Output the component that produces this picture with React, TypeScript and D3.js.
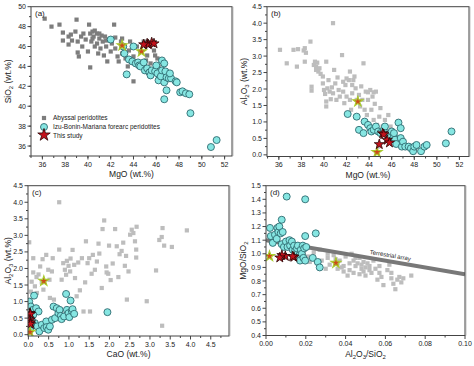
import React from "react";
import * as d3 from "d3";

type Pt = [number, number];

// (a) MgO vs SiO2
const abyssalA: Pt[] = [
  [36.2, 48.8], [36.8, 48.0], [37.5, 48.2], [37.8, 47.4], [37.8, 46.6], [38.3, 47.0], [38.3, 46.2],
  [38.5, 47.2], [38.6, 46.6], [39.0, 48.7], [38.9, 47.5], [39.1, 46.5], [39.1, 45.4], [39.2, 45.0],
  [39.4, 47.0], [39.5, 46.0], [39.8, 46.7], [40.0, 45.5], [40.1, 48.2], [40.2, 47.3], [40.2, 43.9],
  [40.3, 46.5], [40.4, 47.5], [40.5, 47.0], [40.6, 46.0], [40.8, 47.3], [40.8, 46.3], [40.9, 45.3],
  [41.0, 46.8], [41.1, 45.8], [41.2, 47.1], [41.3, 46.5], [41.4, 45.1], [41.5, 47.0], [41.6, 46.0],
  [41.7, 44.5], [41.8, 46.7], [42.0, 45.5], [42.1, 46.3], [42.3, 48.2], [42.4, 45.8], [42.6, 45.0],
  [42.7, 44.5], [42.9, 46.5], [43.0, 45.3], [43.2, 46.0], [43.3, 44.8], [43.5, 44.0], [43.6, 45.6],
  [43.7, 46.5], [44.0, 42.5], [44.0, 45.0], [44.3, 46.0], [44.6, 45.5], [44.9, 46.5], [45.1, 44.6],
  [45.2, 45.1], [45.5, 44.3], [45.8, 45.6], [45.9, 45.1], [46.1, 44.8], [46.2, 44.0], [46.4, 44.6],
  [40.6, 47.6], [41.0, 47.3], [40.4, 46.8], [39.6, 47.3], [41.6, 46.6], [42.4, 46.9], [43.0, 46.8],
];
const ibmA: Pt[] = [
  [42.0, 46.7], [43.1, 46.0], [43.2, 45.3], [43.4, 43.2], [43.6, 44.7], [43.9, 44.5], [44.0, 46.0],
  [44.2, 44.3], [44.4, 44.4], [44.5, 44.1], [44.6, 44.0], [44.9, 44.4], [45.0, 43.6], [45.2, 43.8],
  [45.4, 43.4], [45.5, 43.1], [45.6, 43.6], [45.9, 43.5], [46.0, 44.1], [46.1, 43.3], [46.2, 42.6],
  [46.4, 43.0], [46.5, 43.6], [46.5, 44.6], [46.7, 44.3], [46.7, 42.4], [46.8, 43.5], [46.9, 42.9],
  [47.1, 42.8], [46.7, 40.7], [46.9, 41.6], [47.3, 42.8], [47.7, 42.5], [47.8, 42.4], [48.1, 41.4],
  [48.3, 41.5], [48.6, 41.3], [48.9, 41.2], [49.0, 39.3], [50.8, 35.9], [51.3, 36.6], [47.2, 43.3],
];

// (b) MgO vs Al2O3
const abyssalB: Pt[] = [
  [36.1, 3.19], [36.7, 2.78], [37.3, 3.19], [37.7, 3.21], [37.6, 2.68], [38.2, 3.17], [38.3, 3.24],
  [38.4, 3.1], [38.3, 2.83], [38.8, 3.44], [38.9, 2.07], [38.9, 1.95], [39.1, 2.73], [39.2, 2.83],
  [39.3, 2.68], [39.3, 2.58], [39.4, 2.8], [39.5, 2.53], [39.6, 2.63], [39.7, 2.46], [39.9, 2.38],
  [39.9, 2.17], [40.0, 1.97], [40.1, 1.85], [40.2, 1.47], [40.2, 1.62], [40.2, 2.83], [40.3, 2.02],
  [40.4, 2.27], [40.5, 1.92], [40.6, 1.69], [40.7, 2.05], [40.8, 4.0], [40.8, 1.87], [40.9, 2.58],
  [41.0, 2.17], [41.1, 1.67], [41.2, 2.35], [41.3, 1.97], [41.4, 1.77], [41.6, 3.03], [41.7, 2.22],
  [41.7, 1.92], [41.8, 1.57], [41.9, 2.12], [42.0, 2.32], [42.0, 1.77], [42.2, 2.27], [42.3, 2.53],
  [42.3, 1.67], [42.4, 1.37], [42.5, 2.12], [42.5, 1.87], [42.6, 2.27], [42.7, 2.38], [42.8, 2.02],
  [42.8, 1.16], [42.9, 1.67], [43.1, 1.82], [43.2, 1.47], [43.3, 2.08], [43.4, 1.67], [43.5, 2.78],
  [43.6, 1.37], [43.7, 1.92], [43.8, 1.21], [43.9, 1.67], [44.1, 1.97], [44.2, 1.37], [44.3, 1.77],
  [44.4, 1.06], [44.5, 1.55], [44.7, 0.91], [44.8, 0.25], [44.9, 1.16], [45.0, 1.42], [45.2, 0.86],
  [45.4, 1.06], [45.6, 0.71], [45.7, 1.21], [45.9, 0.86], [44.6, 1.92], [44.4, 1.9], [43.9, 1.9],
];
const ibmB: Pt[] = [
  [42.1, 1.24], [42.9, 1.16], [43.1, 0.76], [43.5, 0.66], [43.6, 1.01], [43.9, 0.91], [44.1, 0.81],
  [44.2, 0.71], [44.4, 0.76], [44.6, 0.86], [44.8, 0.71], [45.0, 0.66], [45.3, 0.76], [45.4, 0.86],
  [45.7, 0.61], [45.8, 0.51], [46.0, 0.71], [46.2, 0.56], [46.3, 0.46], [46.4, 0.33], [46.6, 0.98],
  [46.8, 0.51], [46.8, 0.81], [46.9, 0.25], [47.0, 0.4], [47.2, 0.25], [47.5, 0.25], [47.7, 0.2],
  [47.9, 0.11], [48.0, 0.25], [48.2, 0.3], [48.6, 0.11], [48.9, 0.25], [49.1, 0.3], [50.8, 0.35],
  [51.3, 0.71], [46.2, 0.66],
];

// (c) CaO vs Al2O3
const abyssalC: Pt[] = [
  [0.02, 2.79], [0.12, 1.88], [0.16, 1.46], [0.21, 1.26], [0.12, 2.31], [0.25, 1.82], [0.29, 2.06],
  [0.33, 1.58], [0.35, 2.28], [0.37, 1.36], [0.44, 2.41], [0.49, 1.96], [0.52, 1.66], [0.53, 1.11],
  [0.58, 1.91], [0.6, 2.31], [0.63, 1.06], [0.76, 4.0], [0.76, 2.57], [0.82, 1.66], [0.86, 2.16],
  [0.9, 1.96], [0.93, 1.81], [0.95, 2.23], [0.99, 2.08], [1.03, 1.91], [1.04, 2.3], [1.09, 2.56],
  [1.13, 2.11], [1.15, 1.71], [1.19, 1.16], [1.23, 2.18], [1.27, 1.34], [1.32, 2.31], [1.36, 0.7],
  [1.4, 1.58], [1.42, 2.82], [1.46, 2.16], [1.5, 2.31], [1.52, 0.7], [1.56, 1.84], [1.59, 2.41],
  [1.64, 1.96], [1.69, 2.21], [1.73, 2.75], [1.75, 2.45], [1.81, 1.41], [1.83, 3.19], [1.87, 3.45],
  [1.92, 2.06], [1.93, 1.88], [1.97, 1.84], [1.99, 2.69], [2.03, 1.65], [2.08, 2.15], [2.14, 3.19],
  [2.18, 2.67], [2.22, 1.74], [2.25, 2.43], [2.3, 2.53], [2.34, 2.78], [2.38, 2.08], [2.41, 2.38],
  [2.47, 1.91], [2.51, 3.02], [2.55, 3.17], [2.59, 3.07], [2.63, 2.82], [2.66, 2.57], [2.67, 3.26],
  [2.43, 1.06], [2.92, 1.01], [3.15, 1.94], [3.23, 2.86], [3.29, 2.95], [3.31, 3.22], [3.35, 2.69],
  [3.3, 0.27], [3.54, 2.65], [3.91, 3.15], [2.66, 2.33], [0.08, 1.6], [0.06, 1.3], [0.2, 1.74],
];
const ibmC: Pt[] = [
  [0.02, 1.0], [0.06, 0.85], [0.11, 0.75], [0.14, 1.18], [0.19, 0.8], [0.25, 0.7], [0.12, 0.6],
  [0.08, 0.45], [0.16, 0.35], [0.22, 0.25], [0.27, 0.1], [0.33, 0.3], [0.39, 0.2], [0.44, 0.4],
  [0.45, 0.23], [0.49, 0.15], [0.53, 0.25], [0.58, 0.45], [0.62, 0.85], [0.66, 0.5], [0.7, 0.8],
  [0.74, 0.65], [0.77, 0.75], [0.8, 0.57], [0.82, 0.47], [0.88, 0.55], [0.93, 1.23], [0.95, 0.75],
  [0.99, 0.65], [1.01, 0.53], [1.04, 1.03], [1.07, 0.72], [1.09, 0.77], [1.13, 0.63], [1.95, 0.68],
  [0.04, 0.15], [0.02, 0.3],
];

// (d) Al2O3/SiO2 vs MgO/SiO2
const abyssalD: Pt[] = [
  [0.019, 1.0], [0.021, 0.98], [0.022, 0.94], [0.026, 0.93], [0.028, 0.95], [0.03, 0.89], [0.031, 0.97],
  [0.032, 0.92], [0.034, 0.99], [0.036, 0.89], [0.036, 0.93], [0.037, 0.95], [0.039, 0.87], [0.039, 0.91],
  [0.04, 0.98], [0.041, 0.84], [0.042, 0.93], [0.042, 0.88], [0.043, 1.0], [0.044, 0.86], [0.044, 0.95],
  [0.045, 0.91], [0.046, 0.93], [0.047, 0.85], [0.047, 0.97], [0.048, 0.89], [0.048, 0.92], [0.049, 0.87],
  [0.049, 0.94], [0.05, 0.9], [0.05, 0.84], [0.051, 0.93], [0.052, 0.88], [0.052, 0.91], [0.053, 0.86],
  [0.054, 0.95], [0.055, 0.89], [0.056, 0.81], [0.057, 0.91], [0.057, 0.86], [0.058, 0.83], [0.059, 0.77],
  [0.061, 0.88], [0.062, 0.92], [0.063, 0.82], [0.063, 0.86], [0.064, 0.78], [0.065, 0.74], [0.066, 0.81],
  [0.067, 0.83], [0.068, 0.79], [0.069, 0.82], [0.073, 0.84], [0.021, 1.05], [0.027, 1.03], [0.031, 1.0],
  [0.024, 1.01], [0.035, 0.96], [0.045, 0.97], [0.038, 0.9],
];
const ibmD: Pt[] = [
  [0.002, 1.19], [0.0024, 1.13], [0.0034, 1.08], [0.0045, 1.14], [0.0054, 1.11], [0.0057, 1.19],
  [0.0062, 1.16], [0.0067, 1.2], [0.0074, 1.15], [0.0079, 1.25], [0.0084, 1.16], [0.0079, 1.07],
  [0.009, 1.05], [0.01, 1.09], [0.0104, 1.42], [0.0108, 1.05], [0.0118, 1.1], [0.0121, 1.06],
  [0.013, 1.09], [0.0134, 1.03], [0.0141, 1.06], [0.0146, 1.02], [0.0155, 1.04], [0.016, 1.06],
  [0.0168, 0.99], [0.0171, 0.95], [0.0175, 1.03], [0.018, 1.0], [0.0185, 1.06], [0.0188, 0.97],
  [0.0192, 1.04], [0.0197, 1.4], [0.0197, 1.13], [0.0202, 1.05], [0.0197, 0.95], [0.0235, 0.97],
  [0.025, 1.15], [0.026, 0.94], [0.027, 0.9],
];

// this study (wt.%)
const studyMgO = [43.0, 44.7, 45.2, 45.3, 45.6, 45.8, 44.9];
const studySiO2 = [46.1, 45.5, 46.3, 46.2, 46.4, 46.3, 46.2];
const studyAl2O3 = [1.62, 0.08, 0.65, 0.62, 0.45, 0.37, 0.32];
const studyCaO = [0.38, 0.04, 0.04, 0.05, 0.04, 0.05, 0.05];
const studyOutlined = [true, true, false, false, false, false, false];

// terrestrial array end points
const arrayX = [0, 0.1];
const arrayY = [1.1, 0.85];

const FONT = "Liberation Sans, Arial, sans-serif";

type Label = { t: string; sub?: boolean }[];

function LabelText({ parts, size }: { parts: Label; size: number }) {
  return (
    <>
      {parts.map((p, i) => (
        <tspan key={i} fontSize={p.sub ? size * 0.7 : size} dy={p.sub ? size * 0.25 : (i > 0 && parts[i - 1].sub ? -size * 0.25 : 0)}>
          {p.t}
        </tspan>
      ))}
    </>
  );
}

const starPath = d3.symbol(d3.symbolStar, 32)()!;

interface PanelProps {
  left: number; right: number; top: number; bottom: number;
  xDomain: [number, number]; yDomain: [number, number];
  xTicks: number[]; yTicks: number[]; xMinor: number[]; yMinor: number[];
  xFmt: (v: number) => string; yFmt: (v: number) => string;
  tag: string; xLabel: Label; yLabel: Label;
  gray: Pt[]; grayColor: string; cyan: Pt[]; stars: Pt[];
  extra?: (x: d3.ScaleLinear<number, number>, y: d3.ScaleLinear<number, number>) => React.ReactNode;
}

function Panel(p: PanelProps) {
  const x = d3.scaleLinear().domain(p.xDomain).range([p.left, p.right]);
  const y = d3.scaleLinear().domain(p.yDomain).range([p.bottom, p.top]);
  const clip = `clip-${p.tag}`;
  const yLabelX = Math.max(p.left - 20, 10.5);
  return (
    <g fontFamily={FONT}>
      <clipPath id={clip}>
        <rect x={p.left} y={p.top} width={p.right - p.left} height={p.bottom - p.top} />
      </clipPath>
      <g clipPath={`url(#${clip})`}>
        {p.gray.map((d, i) => (
          <rect key={i} x={x(d[0]) - 2.1} y={y(d[1]) - 2.1} width={4.2} height={4.2} fill={p.grayColor} />
        ))}
        {p.extra && p.extra(x, y)}
        {p.cyan.map((d, i) => (
          <circle key={i} cx={x(d[0])} cy={y(d[1])} r={3.5} fill="#86e6e2" stroke="#2f6b70" strokeWidth={0.9} />
        ))}
        {p.stars.map((d, i) => (
          <path key={i} d={starPath} transform={`translate(${x(d[0])},${y(d[1])})`}
            fill={studyOutlined[i] ? "#cc4a1a" : "#c4121c"}
            stroke={studyOutlined[i] ? "#a8cc2e" : "#2a0505"} strokeWidth={studyOutlined[i] ? 1.1 : 0.8} />
        ))}
      </g>
      <rect x={p.left} y={p.top} width={p.right - p.left} height={p.bottom - p.top} fill="none" stroke="#444" strokeWidth={1} />
      <line x1={p.right + 0.8} x2={p.right + 0.8} y1={p.top} y2={p.bottom} stroke="#999" strokeWidth={1} />
      {p.xTicks.map((v) => (
        <g key={v}>
          <line x1={x(v)} x2={x(v)} y1={p.bottom} y2={p.bottom + 3.5} stroke="#444" />
          <text x={x(v)} y={p.bottom + 10.5} fontSize={7} textAnchor="middle" fill="#222">{p.xFmt(v)}</text>
        </g>
      ))}
      {p.xMinor.map((v) => (
        <line key={v} x1={x(v)} x2={x(v)} y1={p.bottom} y2={p.bottom + 2} stroke="#444" />
      ))}
      {p.yTicks.map((v) => (
        <g key={v}>
          <line x1={p.left - 3.5} x2={p.left} y1={y(v)} y2={y(v)} stroke="#444" />
          <text x={p.left - 5} y={y(v) + 2.5} fontSize={7} textAnchor="end" fill="#222">{p.yFmt(v)}</text>
        </g>
      ))}
      {p.yMinor.map((v) => (
        <line key={v} x1={p.left - 2} x2={p.left} y1={y(v)} y2={y(v)} stroke="#444" />
      ))}
      <text x={p.left + 4} y={p.top + 9} fontSize={8} fill="#222">{`(${p.tag})`}</text>
      <text x={(p.left + p.right) / 2} y={p.bottom + 21} fontSize={8.5} textAnchor="middle" fill="#222">
        <LabelText parts={p.xLabel} size={8.5} />
      </text>
      <text transform={`translate(${yLabelX},${(p.top + p.bottom) / 2}) rotate(-90)`} fontSize={8.5} textAnchor="middle" fill="#222">
        <LabelText parts={p.yLabel} size={8.5} />
      </text>
    </g>
  );
}

const range = (a: number, b: number, s: number) => d3.range(a, b + s / 2, s).map((v) => +v.toFixed(4));

export default function App() {
  const starsA: Pt[] = studyMgO.map((m, i) => [m, studySiO2[i]]);
  const starsB: Pt[] = studyMgO.map((m, i) => [m, studyAl2O3[i]]);
  const starsC: Pt[] = studyCaO.map((c, i) => [c, studyAl2O3[i]]);
  const starsD: Pt[] = studyAl2O3.map((a, i) => [a / studySiO2[i], studyMgO[i] / studySiO2[i]]);
  const f1 = (v: number) => v.toFixed(1);
  const f0 = (v: number) => v.toFixed(0);
  const wt: Label = [{ t: " (wt.%)" }];
  return (
    <svg width={474} height={366} style={{ position: "absolute", left: 0, top: 0, background: "#fff" }}>
      <Panel left={31} right={232} top={6.7} bottom={156}
        xDomain={[35, 52.65]} yDomain={[35, 50]}
        xTicks={range(36, 52, 2)} yTicks={range(36, 50, 2)} xMinor={range(35, 52, 1)} yMinor={range(35, 49, 1)}
        xFmt={f0} yFmt={f0} tag="a"
        xLabel={[{ t: "MgO" }, ...wt]} yLabel={[{ t: "SiO" }, { t: "2", sub: true }, ...wt]}
        gray={abyssalA} grayColor="#7d7d7d" cyan={ibmA} stars={starsA} />
      <Panel left={267} right={469} top={6.7} bottom={156.5}
        xDomain={[34.95, 52.85]} yDomain={[-0.05, 4.5]}
        xTicks={range(36, 52, 2)} yTicks={range(0, 4.5, 0.5)} xMinor={range(35, 52, 1)} yMinor={range(0.25, 4.25, 0.5)}
        xFmt={f0} yFmt={f1} tag="b"
        xLabel={[{ t: "MgO" }, ...wt]} yLabel={[{ t: "Al" }, { t: "2", sub: true }, { t: "O" }, { t: "3", sub: true }, ...wt]}
        gray={abyssalB} grayColor="#bdbdbd" cyan={ibmB} stars={starsB} />
      <Panel left={28} right={229} top={185.7} bottom={336}
        xDomain={[-0.01, 4.95]} yDomain={[-0.04, 4.5]}
        xTicks={range(0, 4.5, 0.5)} yTicks={range(0, 4.5, 0.5)} xMinor={range(0.25, 4.75, 0.5)} yMinor={range(0.25, 4.25, 0.5)}
        xFmt={f1} yFmt={f1} tag="c"
        xLabel={[{ t: "CaO" }, ...wt]} yLabel={[{ t: "Al" }, { t: "2", sub: true }, { t: "O" }, { t: "3", sub: true }, ...wt]}
        gray={abyssalC} grayColor="#bdbdbd" cyan={ibmC} stars={starsC} />
      <Panel left={266} right={465} top={185.7} bottom={335.5}
        xDomain={[0, 0.1]} yDomain={[0.4, 1.5]}
        xTicks={range(0, 0.1, 0.02)} yTicks={range(0.4, 1.5, 0.1)} xMinor={range(0.01, 0.09, 0.02)} yMinor={range(0.45, 1.45, 0.1)}
        xFmt={(v) => v.toFixed(2)} yFmt={f1} tag="d"
        xLabel={[{ t: "Al" }, { t: "2", sub: true }, { t: "O" }, { t: "3", sub: true }, { t: "/SiO" }, { t: "2", sub: true }]}
        yLabel={[{ t: "MgO/SiO" }, { t: "2", sub: true }]}
        gray={abyssalD} grayColor="#bdbdbd" cyan={ibmD} stars={starsD}
        extra={(x, y) => {
          const x1 = x(arrayX[0]), y1 = y(arrayY[0]), x2 = x(arrayX[1]), y2 = y(arrayY[1]);
          const ang = (Math.atan2(y2 - y1, x2 - x1) * 180) / Math.PI;
          const tx = x(0.052), ty = y(arrayY[0] + (arrayY[1] - arrayY[0]) * 0.52) - 4;
          return (
            <g>
              <line x1={x1} y1={y1} x2={x2} y2={y2} stroke="#787878" strokeWidth={4} />
              <text transform={`translate(${tx},${ty}) rotate(${ang})`} fontSize={6} fill="#222">Terrestrial array</text>
            </g>
          );
        }} />
      {/* legend (a) */}
      <g fontFamily={FONT} fontSize={6.5} fill="#222">
        <rect x={41.9} y={115.9} width={4.2} height={4.2} fill="#7d7d7d" />
        <text x={53} y={120.3}>Abyssal peridotites</text>
        <circle cx={44} cy={127} r={3.5} fill="#86e6e2" stroke="#2f6b70" strokeWidth={0.9} />
        <text x={53} y={129.3}>Izu-Bonin-Mariana forearc peridotites</text>
        <path d={d3.symbol(d3.symbolStar, 48)()!} transform="translate(44,135)" fill="#c4121c" stroke="#2a0505" strokeWidth={0.8} />
        <text x={53} y={137.5}>This study</text>
      </g>
    </svg>
  );
}
